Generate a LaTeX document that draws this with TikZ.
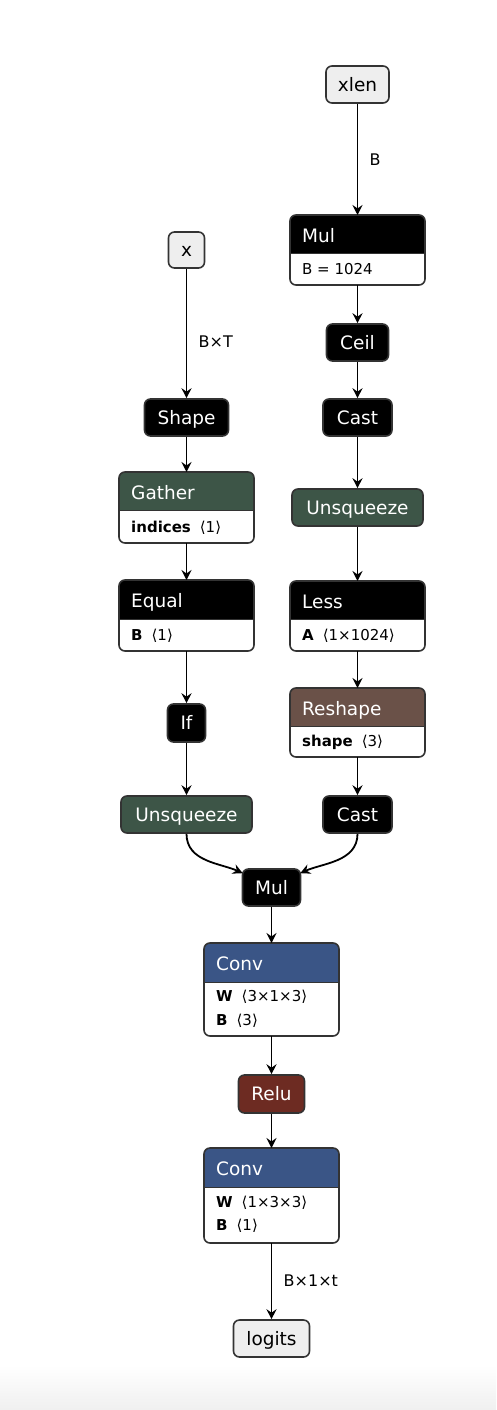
\documentclass[tikz,border=0pt]{standalone}
\usepackage{fontspec}
\setmainfont{DejaVu Sans}
\usetikzlibrary{arrows.meta}
\definecolor{bd}{HTML}{333333}
\definecolor{infill}{HTML}{EEEEEE}
\definecolor{hgreen}{HTML}{3D5547}
\definecolor{hbrown}{HTML}{6A5148}
\definecolor{hblue}{HTML}{3A5586}
\definecolor{hred}{HTML}{6D2B22}
\newcommand\hfont{\fontsize{18.5}{22}\selectfont}
\newcommand\bfont{\fontsize{15}{18}\selectfont}
\newcommand\lfont{\fontsize{16}{19}\selectfont}
\newcommand\gapx{\hspace{9pt}}
\newcommand\mkhead[3]{%
  \fill[white, rounded corners=6] (#1.north west) rectangle (#1.south east);
  \fill[#2] ([yshift=-#3]#1.north west) [rounded corners=6] -- (#1.north west) -- (#1.north east) [sharp corners] -- ([yshift=-#3]#1.north east) -- cycle;
  \draw[bd, line width=0.8] ([yshift=-#3]#1.north west) -- ([yshift=-#3]#1.north east);
  \draw[bd, line width=1.6, rounded corners=6] (#1.north west) rectangle (#1.south east);
}
\tikzset{
  card/.style={draw=none, minimum width=135, inner sep=0, outer sep=0},
  op/.style={draw=bd, line width=1.6, rounded corners=6, fill=black, text=white, font=\hfont,
    minimum height=37, inner sep=0, text height=13.5pt, text depth=0pt},
  inp/.style={draw=bd, line width=1.6, rounded corners=6, fill=infill, text=black, font=\hfont,
    minimum height=37, inner sep=0, text height=13.5pt, text depth=0pt},
  ttl/.style={anchor=west, text=white, font=\hfont, inner sep=0, text height=16.5pt, text depth=0pt},
  bdy/.style={anchor=west, text=black, font=\bfont, inner sep=0, text height=11pt, text depth=0pt},
  elab/.style={right, font=\lfont, text=black, xshift=8},
  edge/.style={draw=black, line width=1.8, -{Stealth[length=10, width=10, inset=3.5]}}
}
\begin{document}
\begin{tikzpicture}[x=1pt,y=-1pt]
\fill[white] (0,0) rectangle (496,1410);
\useasboundingbox (0,0) rectangle (496,1410);
\shade[top color=white, bottom color=black!6] (0,1365) rectangle (496,1410);

% inputs
\node[inp, minimum width=63] (xlen) at (357.5,84.5) {xlen};
\node[inp, minimum width=36, minimum height=36] (x) at (186.5,250) {x};
\node[inp, minimum width=76] (logits) at (271.5,1338.5) {logits};

% right column
\node[card, minimum height=70] (mula) at (357.5,250) {};
\mkhead{mula}{black}{38}
\node[ttl] (mulat) at ([xshift=12,yshift=-19]mula.north west) {Mul};
\node[bdy] (mulab) at ([xshift=12,yshift=-54]mula.north west) {B = 1024};

\node[op, minimum width=62] (ceil) at (357.5,342.5) {Ceil};
\node[op, minimum width=69] (casta) at (357.5,417.5) {Cast};
\node[op, minimum width=131, fill=hgreen] (unsqa) at (357.5,507.5) {Unsqueeze};

\node[card, minimum height=70] (less) at (357.5,616) {};
\mkhead{less}{black}{38}
\node[ttl] (lesst) at ([xshift=12,yshift=-19]less.north west) {Less};
\node[bdy] (lessb) at ([xshift=12,yshift=-54]less.north west) {\textbf{A}\gapx⟨1×1024⟩};

\node[card, minimum height=69] (resh) at (357.5,722.5) {};
\mkhead{resh}{hbrown}{38}
\node[ttl] (resht) at ([xshift=12,yshift=-19]resh.north west) {Reshape};
\node[bdy] (reshb) at ([xshift=12,yshift=-53]resh.north west) {\textbf{shape}\gapx⟨3⟩};

\node[op, minimum width=69] (castb) at (357.5,814.5) {Cast};

% left column
\node[op, minimum width=84] (shape) at (186.5,417.5) {Shape};

\node[card, minimum height=71] (gath) at (186.5,507.5) {};
\mkhead{gath}{hgreen}{38}
\node[ttl] (gatht) at ([xshift=12,yshift=-19]gath.north west) {Gather};
\node[bdy] (gathb) at ([xshift=12,yshift=-55]gath.north west) {\textbf{indices}\gapx⟨1⟩};

\node[card, minimum height=71] (equal) at (186.5,615.5) {};
\mkhead{equal}{black}{39}
\node[ttl] (equalt) at ([xshift=12,yshift=-19.5]equal.north west) {Equal};
\node[bdy] (equalb) at ([xshift=12,yshift=-55]equal.north west) {\textbf{B}\gapx⟨1⟩};

\node[op, minimum width=38, minimum height=38] (iff) at (186.5,723) {If};
\node[op, minimum width=131, fill=hgreen] (unsqb) at (186.5,814.5) {Unsqueeze};

% center column
\node[op, minimum width=58] (mulb) at (271.5,887.5) {Mul};

\node[card, minimum height=93] (conva) at (271.5,989.5) {};
\mkhead{conva}{hblue}{39}
\node[ttl] (convat) at ([xshift=12,yshift=-19.5]conva.north west) {Conv};
\node[bdy] (convab1) at ([xshift=12,yshift=-53]conva.north west) {\textbf{W}\gapx⟨3×1×3⟩};
\node[bdy] (convab2) at ([xshift=12,yshift=-77]conva.north west) {\textbf{B}\gapx⟨3⟩};

\node[op, minimum width=66, minimum height=38, fill=hred] (relu) at (271.5,1094) {Relu};

\node[card, minimum height=95] (convb) at (271.5,1195.5) {};
\mkhead{convb}{hblue}{39}
\node[ttl] (convbt) at ([xshift=12,yshift=-19.5]convb.north west) {Conv};
\node[bdy] (convbb1) at ([xshift=12,yshift=-54]convb.north west) {\textbf{W}\gapx⟨1×3×3⟩};
\node[bdy] (convbb2) at ([xshift=12,yshift=-77]convb.north west) {\textbf{B}\gapx⟨1⟩};

% edges
\draw[edge] (xlen.south) -- node[elab] {B} (mula.north);
\draw[edge] (mula.south) -- (ceil.north);
\draw[edge] (ceil.south) -- (casta.north);
\draw[edge] (casta.south) -- (unsqa.north);
\draw[edge] (unsqa.south) -- (less.north);
\draw[edge] (less.south) -- (resh.north);
\draw[edge] (resh.south) -- (castb.north);
\draw[edge] (x.south) -- node[elab, pos=0.56] {B×T} (shape.north);
\draw[edge] (shape.south) -- (gath.north);
\draw[edge] (gath.south) -- (equal.north);
\draw[edge] (equal.south) -- (iff.north);
\draw[edge] (iff.south) -- (unsqb.north);
\draw[edge] (unsqb.south) .. controls +(0,28) and +(-22,-10) .. ([xshift=1,yshift=-5]mulb.north west);
\draw[edge] (castb.south) .. controls +(0,28) and +(22,-10) .. ([xshift=-1,yshift=-5]mulb.north east);
\draw[edge] (mulb.south) -- (conva.north);
\draw[edge] (conva.south) -- (relu.north);
\draw[edge] (relu.south) -- (convb.north);
\draw[edge] (convb.south) -- node[elab] {B×1×t} (logits.north);
\end{tikzpicture}
\end{document}
